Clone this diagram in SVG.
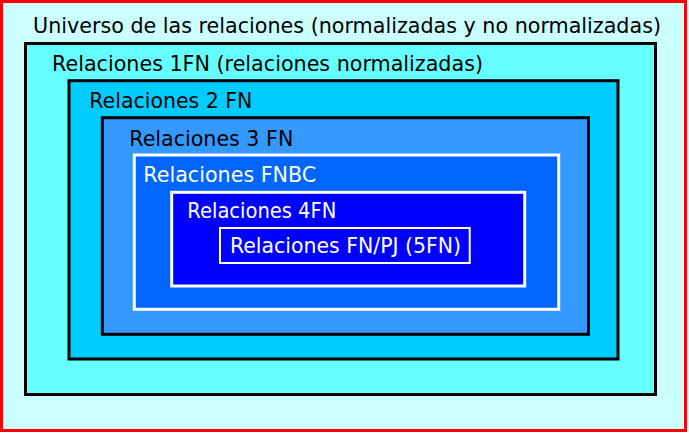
<svg xmlns="http://www.w3.org/2000/svg" width="689" height="433" viewBox="0 0 689 433">
<style>
text{font-family:"DejaVu Sans","Noto Sans",sans-serif;font-size:22px}
.dk{fill:#000}
.lt{fill:#fff}
.bk{stroke:#000;stroke-width:3}
.wh{stroke:#fff;stroke-width:3}
</style>
<g id="universo">
<rect x="1.5" y="1.5" width="684" height="429" fill="#CCFFFF" stroke="#FF0000" stroke-width="3"/>
<text class="dk" x="33" y="33" textLength="628" lengthAdjust="spacingAndGlyphs">Universo de las relaciones (normalizadas y no normalizadas)</text>
</g>
<g id="fn1">
<rect class="bk" x="25.5" y="43.5" width="630" height="351" fill="#66FFFF"/>
<text class="dk" x="52" y="71" textLength="431" lengthAdjust="spacingAndGlyphs">Relaciones 1FN (relaciones normalizadas)</text>
</g>
<g id="fn2">
<rect class="bk" x="69" y="80.7" width="549" height="278.3" fill="#00CCFF"/>
<text class="dk" x="89.3" y="108.3" textLength="163" lengthAdjust="spacingAndGlyphs">Relaciones 2 FN</text>
</g>
<g id="fn3">
<rect class="bk" x="102.3" y="117.7" width="486.2" height="216.6" fill="#3399FF"/>
<text class="dk" x="129.3" y="145.5" textLength="164" lengthAdjust="spacingAndGlyphs">Relaciones 3 FN</text>
</g>
<g id="fnbc">
<rect class="wh" x="134.3" y="155" width="424.4" height="154.3" fill="#0066FF"/>
<text class="lt" x="143.3" y="182" textLength="173" lengthAdjust="spacingAndGlyphs">Relaciones FNBC</text>
</g>
<g id="fn4">
<rect class="wh" x="171.7" y="192.3" width="353" height="93.7" fill="#0000FF"/>
<text class="lt" x="187.3" y="218.3" textLength="149" lengthAdjust="spacingAndGlyphs">Relaciones 4FN</text>
</g>
<g id="fn5">
<rect x="220" y="228" width="249.7" height="35" fill="#0000FF" stroke="#fff" stroke-width="2"/>
<text class="lt" x="230" y="252.7" textLength="231" lengthAdjust="spacingAndGlyphs">Relaciones FN/PJ (5FN)</text>
</g>
</svg>
